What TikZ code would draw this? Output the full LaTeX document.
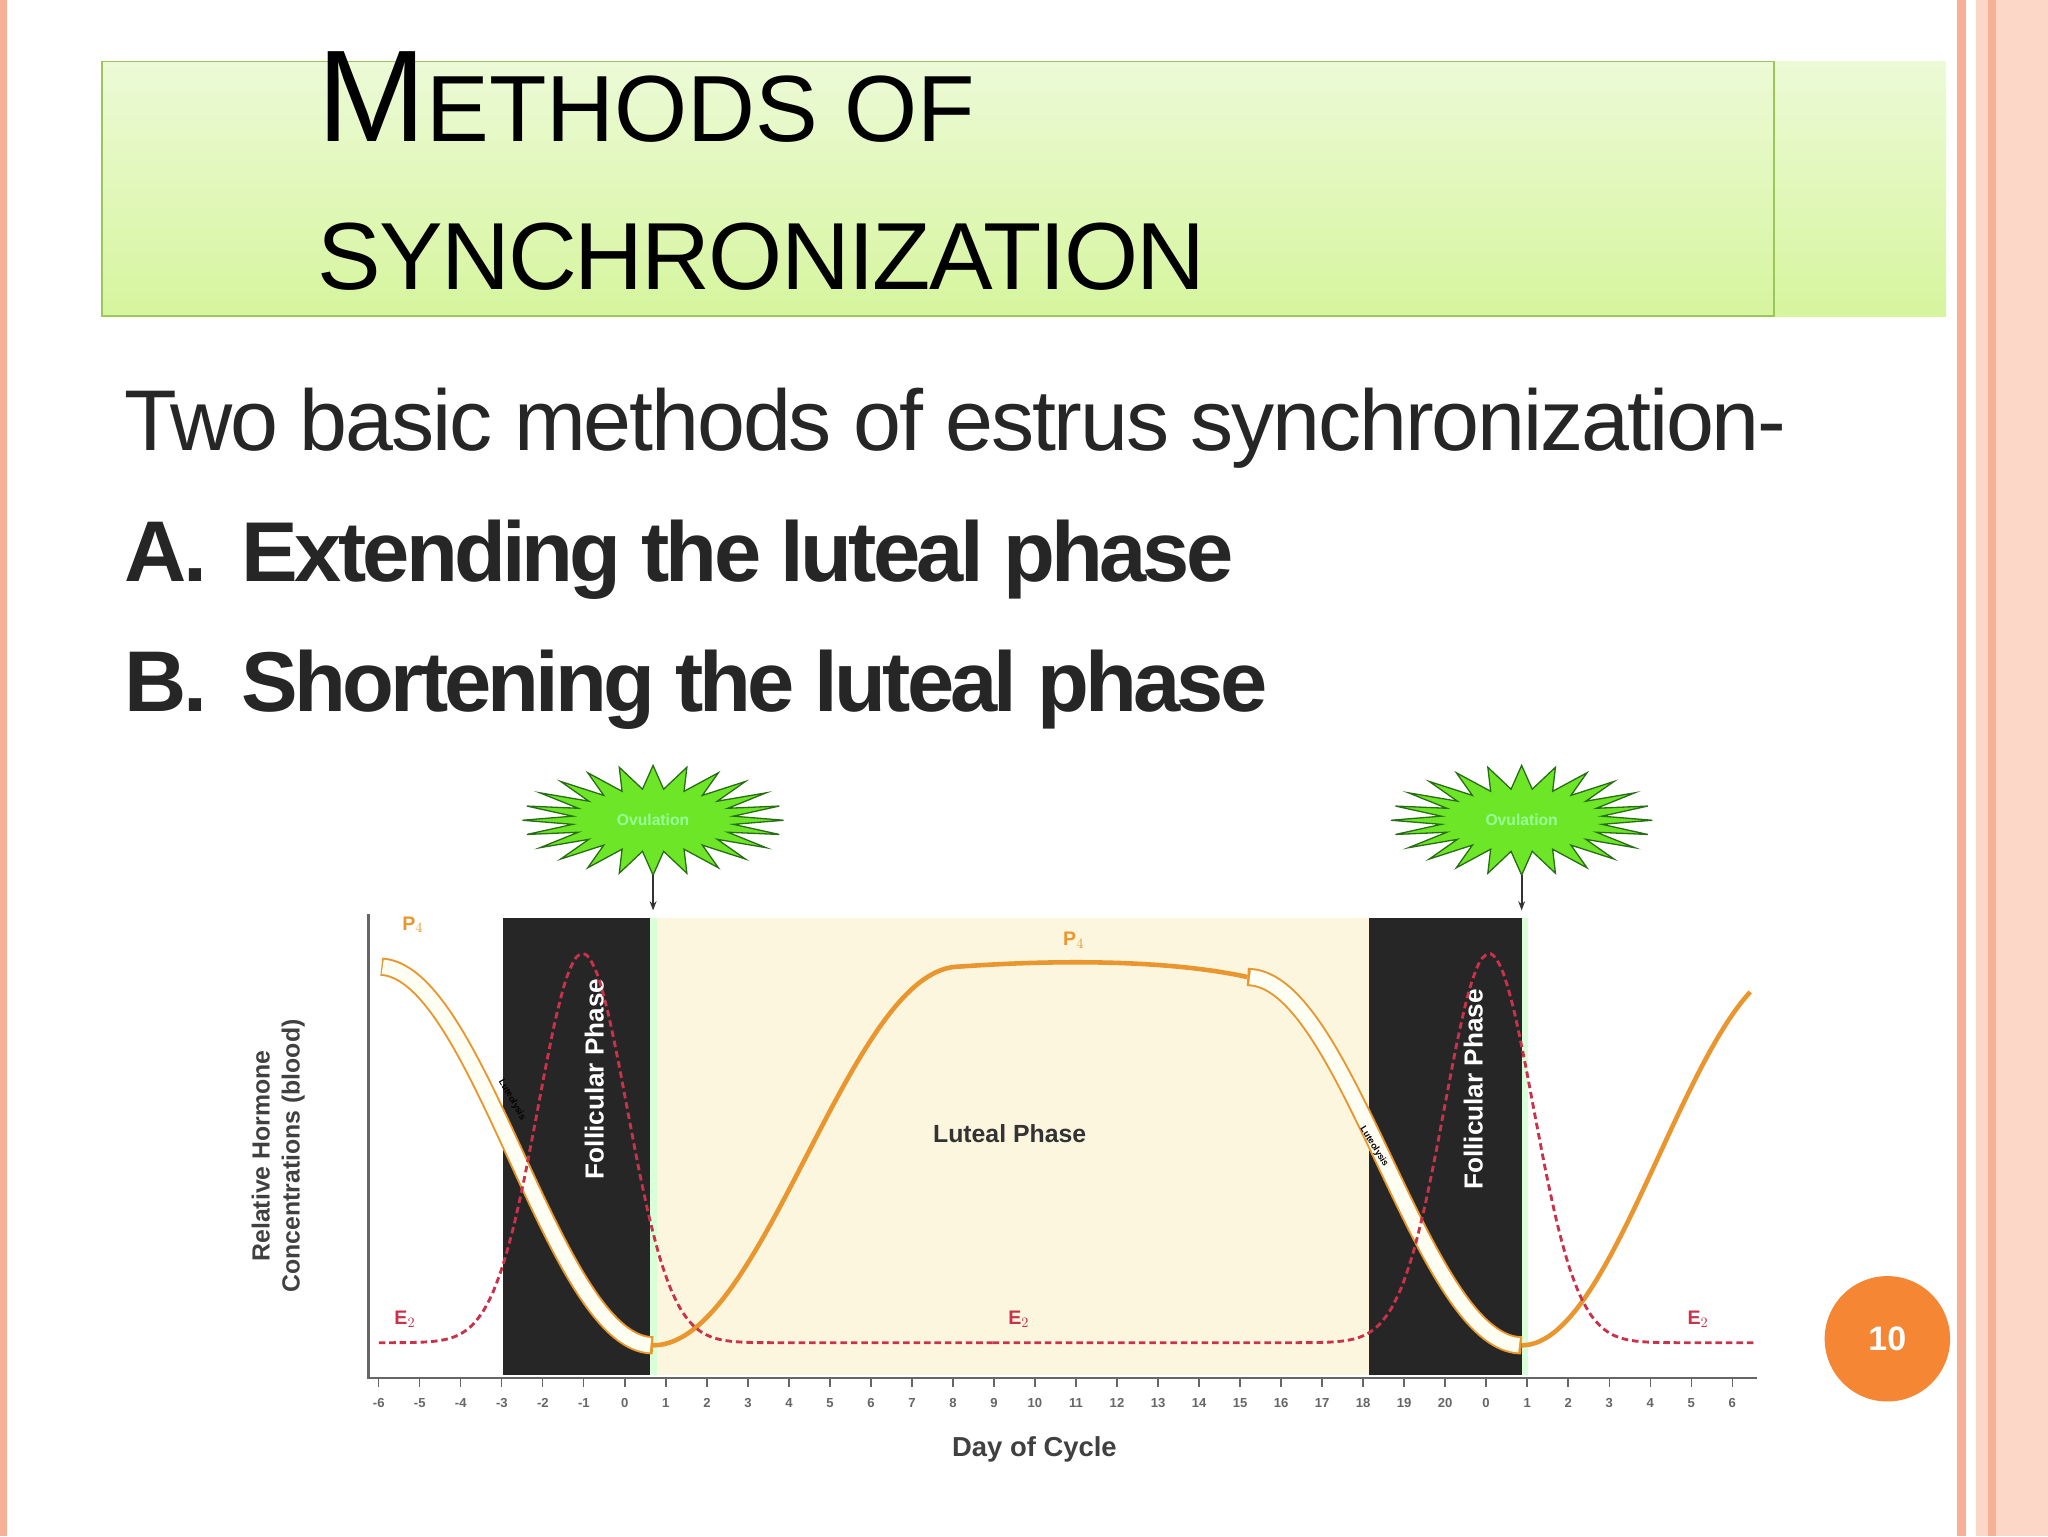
\documentclass[tikz,border=0pt]{standalone}
\usepackage{fontspec}
\setmainfont{Liberation Sans}
\usetikzlibrary{arrows.meta}
\definecolor{salmon}{RGB}{246,176,150}
\definecolor{salmonl}{RGB}{252,214,198}
\definecolor{pfour}{RGB}{232,150,45}
\definecolor{etwo}{RGB}{200,50,74}
\definecolor{cream}{RGB}{253,246,222}
\definecolor{barc}{RGB}{38,38,38}
\definecolor{titleg}{RGB}{155,199,90}
\definecolor{pnum}{RGB}{245,134,52}
\tikzset{
  tick/.style={font=\fontsize{10}{12}\selectfont\bfseries, text=black!60},
  lbl/.style={font=\fontsize{15}{16}\selectfont\bfseries, text=pfour},
  elbl/.style={font=\fontsize{15}{16}\selectfont\bfseries, text=etwo},
  pline/.style={pfour, line width=3.5pt},
  band/.style={pfour, line width=14pt},
  bandin/.style={white!95!yellow, line width=11pt},
  eline/.style={etwo, line width=2.2pt, dash pattern=on 5pt off 3pt},
  follic/.style={font=\fontsize{20}{22}\selectfont\bfseries, text=white, rotate=90},
  burst/.style={fill={rgb,255:red,110;green,230;blue,40}, draw={rgb,255:red,40;green,110;blue,20}, line width=1pt},
}
\begin{document}
\begin{tikzpicture}[x=1pt,y=-1pt]
\useasboundingbox (0,0) rectangle (1568,1176);
\fill[white] (0,0) rectangle (1568,1176);
% borders
\fill[salmon] (0,0) rectangle (5,1176);
\fill[salmon] (1498,0) rectangle (1505,1176);
\fill[salmonl] (1513,0) rectangle (1568,1176);
\fill[salmon] (1522,0) rectangle (1528,1176);
% title
\shade[top color={rgb,255:red,236;green,250;blue,214}, bottom color={rgb,255:red,214;green,245;blue,158}] (78,47) rectangle (1490,242);
\draw[titleg, line width=1.2pt] (78,47) rectangle (1358,242);
\node[anchor=base west, inner sep=0] (t1) at (243,108) {\fontsize{100}{100}\selectfont M\fontsize{72}{72}\selectfont ETHODS OF};
\node[anchor=base west, inner sep=0] (t2) at (243,222) {\fontsize{73}{73}\selectfont\addfontfeature{LetterSpace=-2} SYNCHRONIZATION};
% body
\node[anchor=base west, inner sep=0, text=black!85] (b0) at (95,345) {\fontsize{66}{70}\selectfont\addfontfeature{LetterSpace=-2.5} Two basic methods of estrus synchronization-};
\node[anchor=base west, inner sep=0, text=black!85] (ba) at (95,445) {\fontsize{66}{70}\selectfont\bfseries\addfontfeature{LetterSpace=-4} A.};
\node[anchor=base west, inner sep=0, text=black!85] (ba2) at (185,445) {\fontsize{65}{70}\selectfont\bfseries\addfontfeature{LetterSpace=-4.5} Extending the luteal phase};
\node[anchor=base west, inner sep=0, text=black!85] (bb) at (95,545) {\fontsize{66}{70}\selectfont\bfseries\addfontfeature{LetterSpace=-4} B.};
\node[anchor=base west, inner sep=0, text=black!85] (bb2) at (185,545) {\fontsize{65}{70}\selectfont\bfseries\addfontfeature{LetterSpace=-4.5} Shortening the luteal phase};
% chart backgrounds
\fill[cream] (498,703) rectangle (1048,1053);
\fill[barc] (385,703) rectangle (498,1053);
\fill[barc] (1048,703) rectangle (1165,1053);
\fill[green!15] (498,703) rectangle (503,1053);
\fill[green!15] (1165,703) rectangle (1170,1053);
% axes
\draw[black!60, line width=2pt] (282,700) -- (282,1055) -- (1345,1055);
\foreach \i [count=\k from 0] in {-6,-5,-4,-3,-2,-1,0,1,2,3,4,5,6,7,8,9,10,11,12,13,14,15,16,17,18,19,20,0,1,2,3,4,5,6}{
  \draw[black!60, line width=1pt] ({290+31.4*\k},1055) -- ({290+31.4*\k},1062);
  \node[tick] (tk\k) at ({290+31.4*\k},1074) {\i};
}
\node[font=\fontsize{21}{22}\selectfont\bfseries, text=black!75] (xl) at (792,1110) {Day of Cycle};
\node[font=\fontsize{19}{23}\selectfont\bfseries, text=black!75, rotate=90, align=center] (yl) at (213,885) {Relative Hormone\\Concentrations (blood)};
% phases
\node[follic] (f1) at (455,826) {Follicular Phase};
\node[follic] (f2) at (1128,834) {Follicular Phase};
\node[font=\fontsize{19}{20}\selectfont\bfseries, text=black!80] (lp) at (773,868) {Luteal Phase};
% P4 curves
\draw[band] plot[smooth, samples=50, domain=292:500] (\x,{740+145*(1-cos((\x-290)*0.857))});
\draw[bandin] plot[smooth, samples=50, domain=293:498] (\x,{740+145*(1-cos((\x-290)*0.857))});
\draw[pline] plot[smooth, samples=40, domain=500:735] (\x,{1030-145*(1-cos((\x-500)*0.766))});
\draw[pline] (735,740) .. controls (820,734) and (900,736) .. (955,748);
\draw[band] plot[smooth, samples=40, domain=955:1165] (\x,{748+141*(1-cos((\x-955)*0.857))});
\draw[bandin] plot[smooth, samples=40, domain=957:1163] (\x,{748+141*(1-cos((\x-955)*0.857))});
\draw[pline] plot[smooth, samples=40, domain=1165:1340] (\x,{1030-145*(1-cos((\x-1165)*0.857))});
% E2 curves
\draw[eline] plot[smooth, samples=60, domain=290:760] (\x,{1028-298*exp(-min(((\x-446)/48)^2,20))});
\draw[eline] plot[smooth, samples=70, domain=760:1345] (\x,{1028-298*exp(-min(((\x-1140)/48)^2,20))});
% luteolysis
\node[font=\fontsize{7}{7}\selectfont\bfseries, rotate=-60, inner sep=0] (l1) at (392,842) {Luteolysis};
\node[font=\fontsize{7}{7}\selectfont\bfseries, rotate=-58, inner sep=0] (l2) at (1052,878) {Luteolysis};
% labels
\node[lbl] (p1) at (316,708) {P$_4$};
\node[lbl] (p2) at (822,720) {P$_4$};
\node[elbl] (e1) at (310,1010) {E$_2$};
\node[elbl] (e2) at (780,1010) {E$_2$};
\node[elbl] (e3) at (1300,1010) {E$_2$};
% ovulation bursts
\foreach \cx/\nm in {500/o1,1165/o2}{
  \fill[burst] (\cx+100,628) \foreach \j in {1,...,47}{ -- ({\cx+cos(\j*7.5)*(mod(\j,2)==0 ? 100 : 62)},{628+sin(\j*7.5)*(mod(\j,2)==0 ? 42 : 24)}) } -- cycle;
  \node[font=\fontsize{12}{12}\selectfont\bfseries, text=green!40!white] (\nm) at (\cx,628) {Ovulation};
  \coordinate (\nm a) at (\cx,697);
  \coordinate (\nm b) at (\cx,670);
  \draw[-{Stealth[length=7pt]}, line width=1.5pt, black!80] (\nm b) -- (\nm a);
}
% page number
\node[circle, fill=pnum, minimum size=96pt, text=white, font=\fontsize{26}{26}\selectfont\bfseries] (pg) at (1445,1025) {10};
\end{tikzpicture}
\end{document}
